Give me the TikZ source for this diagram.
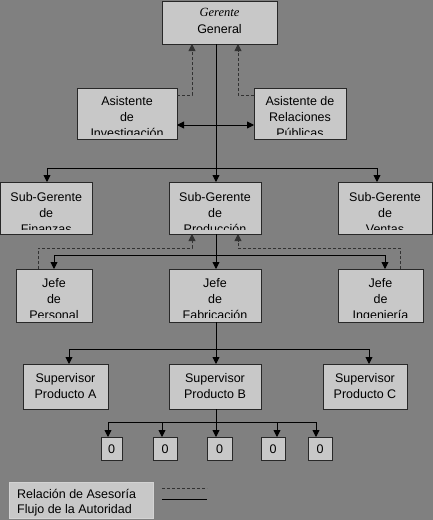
\documentclass[tikz,border=0pt]{standalone}
\usepackage{fontspec}
\setmainfont{Liberation Sans}
\newfontfamily\serifit{Liberation Serif}
\usetikzlibrary{arrows.meta,calc}
\definecolor{bg}{RGB}{128,128,128}
\definecolor{boxfill}{RGB}{200,200,200}
\definecolor{edge}{RGB}{40,40,40}
\definecolor{dashc}{RGB}{50,50,50}
\newcommand\bx[5]{\node[orgbox,minimum width={(#4-#2)*1pt},minimum height={(#5-#3)*1pt}] (#1) at ({(#2+#4)/2},{(#3+#5)/2}) {};}
\newcommand\btext[3]{%
  \begin{scope}
    \clip ($(#1.north west)+(0.6,0.6)$) rectangle ($(#1.south east)+(-0.6,-4.5)$);
    \foreach \t [count=\i from 0] in {#3}{\node[lbl] (#1-l\i) at ($(#1.north)+(0,{#2+16*\i})$) {\t};}
  \end{scope}}
\begin{document}
\begin{tikzpicture}[x=1pt,y=-1pt,
  orgbox/.style={draw=edge,fill=boxfill,line width=0.9pt,inner sep=0pt,outer sep=0pt,rectangle},
  lbl/.style={font=\fontsize{12.5}{14}\selectfont,inner sep=0pt,anchor=base},
  auth/.style={draw=black,line width=0.9pt},
  adv/.style={draw=dashc,line width=0.9pt,dash pattern=on 3pt off 2pt},
  arr/.style={-{Triangle[width=7pt,length=7pt]}},
  darr/.style={{Triangle[width=7pt,length=7pt]}-{Triangle[width=7pt,length=7pt]}}]
\fill[bg] (0,0) rectangle (433,520);
\useasboundingbox (0,0) rectangle (433,520);

% boxes
\bx{gg}{162}{1}{277}{44}
\bx{ai}{77}{88}{177}{139}
\bx{ar}{254}{88}{346}{139}
\bx{sgf}{0.5}{182}{92}{234}
\bx{sgp}{169}{182}{261}{234}
\bx{sgv}{338}{182}{432}{234}
\bx{jp}{16}{269}{92}{322}
\bx{jf}{169}{269}{261}{322}
\bx{ji}{338}{269}{423}{322}
\bx{sa}{23}{364}{108}{409}
\bx{sb}{169}{364}{261}{409}
\bx{sc}{323}{364}{407}{409}
\bx{o1}{101}{437}{122}{460}
\bx{o2}{153}{437}{177}{460}
\bx{o3}{207}{437}{232}{460}
\bx{o4}{261}{437}{285}{460}
\bx{o5}{308}{437}{332}{460}
\node[orgbox,draw=boxfill!80!white,minimum width=144pt,minimum height=36pt] (lg) at (81,500) {};

% texts
\node[lbl,font=\serifit\itshape\fontsize{12.5}{14}\selectfont] (gg-l0) at ($(gg.north)+(0,15)$) {Gerente};
\node[lbl] (gg-l1) at ($(gg.north)+(0,32)$) {General};
\btext{ai}{17}{Asistente,de,Investigación}
\btext{ar}{17}{Asistente de,Relaciones,Públicas}
\btext{sgf}{19}{Sub-Gerente,de,Finanzas}
\btext{sgp}{19}{Sub-Gerente,de,Producción}
\btext{sgv}{19}{Sub-Gerente,de,Ventas}
\btext{jp}{18}{Jefe,de,Personal}
\btext{jf}{18}{Jefe,de,Fabricación}
\btext{ji}{18}{Jefe,de,Ingeniería}
\btext{sa}{18}{Supervisor,Producto A}
\btext{sb}{18}{Supervisor,Producto B}
\btext{sc}{18}{Supervisor,Producto C}
\foreach \n in {o1,o2,o3,o4,o5}{\node[lbl] (\n-t) at ($(\n.north)+(0,16.5)$) {0};}
\node[lbl,anchor=base west] (lg-l0) at (17,498) {Relación de Asesoría};
\node[lbl,anchor=base west] (lg-l1) at (17,513) {Flujo de la Autoridad};

% coordinates
\coordinate (h1) at (216,168);
\coordinate (h1l) at (47,168);
\coordinate (h1r) at (377,168);
\coordinate (dx1) at (192,95);
\coordinate (dx2) at (238,95);
\coordinate (dbl) at (0,125);
\coordinate (h2l) at (54,255);
\coordinate (h2r) at (385,255);
\coordinate (dpl) at (38,248);
\coordinate (dpr) at (400,248);
\coordinate (h3) at (216,349);
\coordinate (h3l) at (69,349);
\coordinate (h3r) at (369,349);
\coordinate (h4) at (216,422);
\coordinate (a1) at (108,422);
\coordinate (a2) at (162,422);
\coordinate (a4) at (277,422);
\coordinate (a5) at (316,422);
\coordinate (lgd1) at (162,488);
\coordinate (lgd2) at (207,488);
\coordinate (lgs1) at (162,499);
\coordinate (lgs2) at (207,499);

% authority lines
\draw[auth,arr] (gg.south -| h1) -- (h1 |- sgp.north);
\draw[auth] (h1l) -- (h1r);
\draw[auth,arr] (h1l) -- (h1l |- sgf.north);
\draw[auth,arr] (h1r) -- (h1r |- sgv.north);
\draw[auth,darr] (ai.east |- dbl) -- (ar.west |- dbl);
\draw[auth,arr] (sgp.south -| h1) -- (h1 |- jf.north);
\draw[auth] (h2l) -- (h2r);
\draw[auth,arr] (h2l) -- (h2l |- jp.north);
\draw[auth,arr] (h2r) -- (h2r |- ji.north);
\draw[auth,arr] (jf.south -| h3) -- (h3 |- sb.north);
\draw[auth] (h3l) -- (h3r);
\draw[auth,arr] (h3l) -- (h3l |- sa.north);
\draw[auth,arr] (h3r) -- (h3r |- sc.north);
\draw[auth,arr] (sb.south -| h4) -- (h4 |- o3.north);
\draw[auth] (a1) -- (a5);
\draw[auth,arr] (a1) -- (a1 |- o1.north);
\draw[auth,arr] (a2) -- (a2 |- o2.north);
\draw[auth,arr] (a4) -- (a4 |- o4.north);
\draw[auth,arr] (a5) -- (a5 |- o5.north);

% advisory lines
\draw[adv,arr] (ai.east |- dx1) -- (dx1) -- (dx1 |- gg.south);
\draw[adv,arr] (ar.west |- dx2) -- (dx2) -- (dx2 |- gg.south);
\draw[adv,arr] (dpl |- jp.north) -- (dpl) -| (dx1 |- sgp.south);
\draw[adv,arr] (dpr |- ji.north) -- (dpr) -| (dx2 |- sgp.south);

% legend lines
\draw[adv] (lgd1) -- (lgd2);
\draw[auth] (lgs1) -- (lgs2);
\end{tikzpicture}
\end{document}
